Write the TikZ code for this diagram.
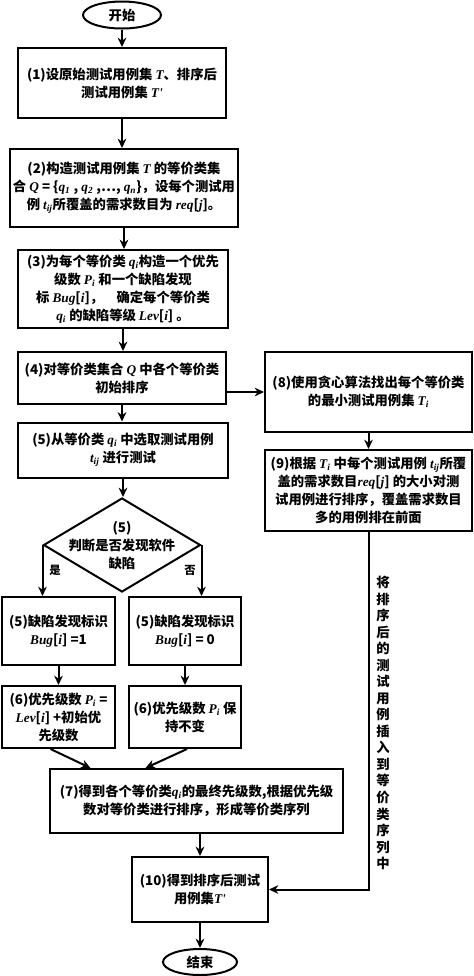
\documentclass[tikz,border=0pt]{standalone}
\usepackage{fontspec}
\setmainfont{Noto Sans CJK SC}
\newfontfamily\tnr{Liberation Serif}
\newcommand{\vv}[1]{{\tnr\bfseries\itshape #1}}
\newcommand{\sub}[1]{\textsubscript{\vv{#1}}}
\usepackage{tikz}
\usetikzlibrary{positioning, arrows.meta, calc, shapes.geometric}

\begin{document}
\begin{tikzpicture}[x=0.75pt, y=-0.75pt, line width=1.5pt,
    every node/.style={font=\fontsize{10}{13.5}\selectfont\bfseries, align=center},
    box/.style={draw, rectangle, inner sep=2pt},
    term/.style={draw, ellipse, inner sep=0pt},
    arr/.style={-{Stealth[length=7pt, width=6.5pt]}}]
  \useasboundingbox (0,0) rectangle (474,976);

  % Main column
  \node[term, minimum width=78*0.75pt, minimum height=27*0.75pt] (start) at (122,15) {开始};
  \node[box, minimum width=208*0.75pt, minimum height=70*0.75pt] (b1) at (122,83)
    {(1)设原始测试用例集 \vv{T}、排序后\\测试用例集 \vv{T'}};
  \node[box, minimum width=228*0.75pt, minimum height=78*0.75pt] (b2) at (124,188)
    {(2)构造测试用例集 \vv{T} 的等价类集\\合 \vv{Q} = \{\vv{q}\sub{1} , \vv{q}\sub{2} ,\dots, \vv{q}\sub{n}\}，设每个测试用\\例 \vv{t}\sub{ij}所覆盖的需求数目为 \vv{req}[\vv{j}]。};
  \node[box, minimum width=210*0.75pt, minimum height=78*0.75pt] (b3) at (123,289)
    {(3)为每个等价类 \vv{q}\sub{i}构造一个优先\\级数 \vv{P}\sub{i} 和一个缺陷发现\\标 \vv{Bug}[\vv{i}]，\quad 确定每个等价类\\\vv{q}\sub{i} 的缺陷等级 \vv{Lev}[\vv{i}] 。};
  \node[box, minimum width=208*0.75pt, minimum height=52*0.75pt] (b4) at (122,378)
    {(4)对等价类集合 \vv{Q} 中各个等价类\\初始排序};
  \node[box, minimum width=210*0.75pt, minimum height=55*0.75pt] (b5) at (123,450)
    {(5)从等价类 \vv{q}\sub{i} 中选取测试用例\\\vv{t}\sub{ij} 进行测试};
  \node[draw, diamond, minimum width=157*0.75pt, minimum height=94*0.75pt, inner sep=0pt] (d) at (122,545) {};
  \node (dtext) at (122,546) {(5)\\判断是否发现软件\\缺陷};
  \node[font=\fontsize{8.5}{10}\selectfont\bfseries] (yes) at (55,570) {是};
  \node[font=\fontsize{8.5}{10}\selectfont\bfseries] (no) at (190,570) {否};

  % Two branches
  \node[box, minimum width=113*0.75pt, minimum height=68*0.75pt] (b5a) at (58.5,631)
    {(5)缺陷发现标识\\\vv{Bug}[\vv{i}] =1};
  \node[box, minimum width=112*0.75pt, minimum height=68*0.75pt] (b5b) at (185,631)
    {(5)缺陷发现标识\\\vv{Bug}[\vv{i}] = 0};
  \node[box, minimum width=113*0.75pt, minimum height=62*0.75pt] (b6a) at (58.5,717)
    {(6)优先级数 \vv{P}\sub{i} =\\\vv{Lev}[\vv{i}] +初始优\\先级数};
  \node[box, minimum width=112*0.75pt, minimum height=62*0.75pt] (b6b) at (185,717)
    {(6)优先级数 \vv{P}\sub{i} 保\\持不变};
  \node[box, minimum width=293*0.75pt, minimum height=64*0.75pt] (b7) at (196.5,801)
    {(7)得到各个等价类\vv{q}\sub{i}的最终先级数,根据优先级\\数对等价类进行排序，形成等价类序列};
  \node[box, minimum width=136*0.75pt, minimum height=65*0.75pt] (b10) at (200,889.5)
    {(10)得到排序后测试\\用例集\vv{T'}};
  \node[term, minimum width=74*0.75pt, minimum height=26*0.75pt] (end) at (200,962) {结束};

  % Right column
  \node[box, minimum width=207*0.75pt, minimum height=80*0.75pt] (b8) at (368.5,392)
    {(8)使用贪心算法找出每个等价类\\的最小测试用例集 \vv{T}\sub{i}};
  \node[box, minimum width=207*0.75pt, minimum height=81*0.75pt] (b9) at (368.5,490.5)
    {(9)根据 \vv{T}\sub{i} 中每个测试用例 \vv{t}\sub{ij}所覆\\盖的需求数目\vv{req}[\vv{j}] 的大小对测\\试用例进行排序，覆盖需求数目\\多的用例排在前面};
  \node[font=\fontsize{10}{12.4}\selectfont\bfseries] (insert) at (383,723)
    {将\\排\\序\\后\\的\\测\\试\\用\\例\\插\\入\\到\\等\\价\\类\\序\\列\\中};

  % Connectors
  \draw[arr] (start) -- (start |- b1.north);
  \draw[arr] (b1.south) -- (b1.south |- b2.north);
  \draw[arr] (b2.south) -- (b2.south |- b3.north);
  \draw[arr] (b3.south) -- (b3.south |- b4.north);
  \draw[arr] (b4.south) -- (b4.south |- b5.north);
  \draw[arr] (b5.south) -- (b5.south |- d.north);
  \draw[arr] (d.west) -- (d.west |- b5a.north);
  \draw[arr] (d.east) -- (d.east |- b5b.north);
  \draw[arr] (b5a) -- (b6a);
  \draw[arr] (b5b) -- (b6b);
  \draw[arr] ($(b6a.south)+(-8,0)$) -- ($(b7.north)+(-106,0)$);
  \draw[arr] ($(b6b.south)+(2,0)$) -- ($(b7.north)+(-51,0)$);
  \draw[arr] (b7.south -| b10.north) -- (b10.north);
  \draw[arr] (b10) -- (end);
  \draw[arr] (b4.east |- b8.west) -- (b8.west);
  \draw[arr] (b8) -- (b9);
  \draw[arr] (b9.south) |- (b10.east);
\end{tikzpicture}
\end{document}
